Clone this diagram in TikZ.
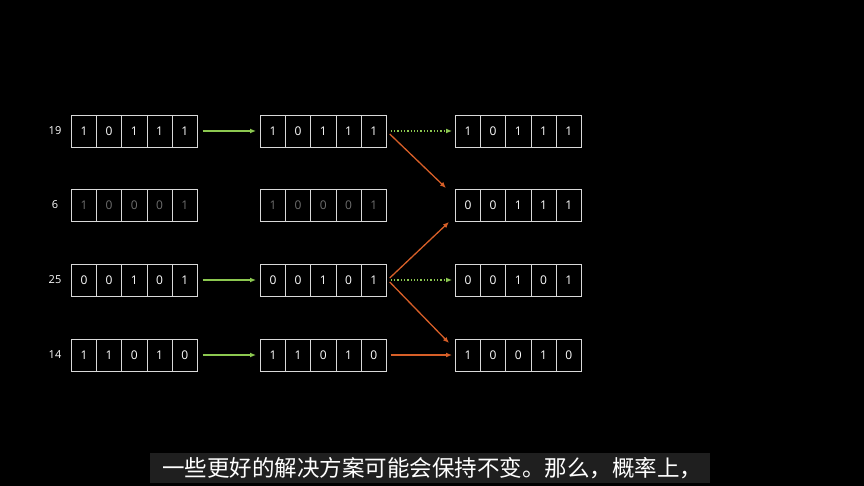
\documentclass[tikz,border=0pt]{standalone}
\usepackage{fontspec}
\setmainfont{Open Sans}
\newfontfamily\cjk{Noto Sans CJK SC}
\definecolor{grn}{RGB}{140,200,80}
\definecolor{org}{RGB}{215,95,40}
\definecolor{dimg}{RGB}{110,110,110}
\tikzset{cell/.style={draw=white!85!black,line width=0.7pt,minimum width=25.2pt,minimum height=32pt,inner sep=0pt,font=\fontsize{12}{12}\selectfont,anchor=west},
lbl/.style={text=white,font=\fontsize{11}{11}\selectfont},
ga/.style={draw=grn,line width=1.3pt,-{Latex[length=6pt,width=5pt]}},
gd/.style={draw=grn,line width=1.3pt,dotted,-{Latex[length=6pt,width=5pt]}},
oa/.style={draw=org,line width=1.3pt,-{Latex[length=6pt,width=5pt]}}}
\usetikzlibrary{arrows.meta}
\newcommand{\reg}[5]{%
  \foreach \b [count=\i] in {#4} {\node[cell,text=#5] (#1\i) at ({#2+(\i-1)*25.2pt},#3) {\b};}}
\begin{document}
\begin{tikzpicture}[x=1pt,y=-1pt]
\fill[black] (0,0) rectangle (864,486);
\useasboundingbox (0,0) rectangle (864,486);
\foreach \n/\y in {19/131,6/205,25/280,14/355}{\node[lbl] (l\n) at (55,\y) {\n};}
\reg{a}{71}{131}{1,0,1,1,1}{white}
\reg{b}{71}{205}{1,0,0,0,1}{dimg}
\reg{c}{71}{280}{0,0,1,0,1}{white}
\reg{d}{71}{355}{1,1,0,1,0}{white}
\reg{e}{260}{131}{1,0,1,1,1}{white}
\reg{f}{260}{205}{1,0,0,0,1}{dimg}
\reg{g}{260}{280}{0,0,1,0,1}{white}
\reg{h}{260}{355}{1,1,0,1,0}{white}
\reg{p}{455}{131}{1,0,1,1,1}{white}
\reg{q}{455}{205}{0,0,1,1,1}{white}
\reg{r}{455}{280}{0,0,1,0,1}{white}
\reg{s}{455}{355}{1,0,0,1,0}{white}
\draw[ga] ([xshift=5pt]a5.east) -- ([xshift=-4pt]e1.west);
\draw[ga] ([xshift=5pt]c5.east) -- ([xshift=-4pt]g1.west);
\draw[ga] ([xshift=5pt]d5.east) -- ([xshift=-4pt]h1.west);
\draw[gd] ([xshift=4pt]e5.east) -- ([xshift=-3pt]p1.west);
\draw[gd] ([xshift=4pt]g5.east) -- ([xshift=-3pt]r1.west);
\draw[oa] ([xshift=4pt]h5.east) -- ([xshift=-3pt]s1.west);
\draw[oa] ([xshift=3pt,yshift=-3pt]e5.east) -- ([xshift=-9pt,yshift=17pt]q1.west);
\draw[oa] ([xshift=3pt,yshift=2pt]g5.east) -- ([xshift=-6pt,yshift=-17pt]q1.west);
\draw[oa] ([xshift=3pt,yshift=-2pt]g5.east) -- ([xshift=-6pt,yshift=12pt]s1.west);
\fill[black!88!white] (150,453) rectangle (710,483);
\node[text=white,font=\cjk\fontsize{22.5}{22.5}\selectfont] (sub) at (432,468) {一些更好的解决方案可能会保持不变。那么，概率上，};
\end{tikzpicture}
\end{document}
